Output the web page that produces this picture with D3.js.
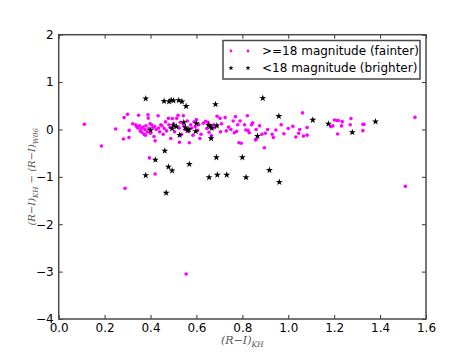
<!DOCTYPE html>
<html><head><meta charset="utf-8">
<script src="https://cdn.jsdelivr.net/npm/d3@7"></script>
<style>body{margin:0;background:#fff}svg{display:block}</style>
</head><body>
<script>
// faint (>=18 mag) points: [x, y]
const faintX = [0.112,0.186,0.248,0.282,0.285,0.300,0.307,0.306,0.322,0.335,0.340,0.345,0.348,0.352,0.355,0.360,0.362,0.368,0.372,0.375,0.378,0.380,0.385,0.389,0.390,0.392,0.395,0.398,0.400,0.405,0.410,0.415,0.418,0.420,0.420,0.425,0.433,0.435,0.440,0.445,0.450,0.455,0.460,0.465,0.470,0.478,0.480,0.485,0.488,0.495,0.500,0.505,0.514,0.520,0.526,0.525,0.530,0.535,0.543,0.545,0.550,0.555,0.560,0.565,0.569,0.575,0.580,0.585,0.590,0.595,0.600,0.605,0.610,0.615,0.620,0.630,0.640,0.645,0.650,0.655,0.660,0.665,0.675,0.680,0.690,0.703,0.705,0.710,0.725,0.730,0.740,0.750,0.760,0.765,0.770,0.775,0.780,0.785,0.790,0.795,0.810,0.815,0.822,0.825,0.830,0.840,0.845,0.857,0.861,0.860,0.875,0.885,0.896,0.900,0.910,0.930,0.935,0.946,0.969,0.981,1.000,1.020,1.033,1.045,1.050,1.062,1.066,1.082,1.082,1.185,1.194,1.201,1.212,1.218,1.215,1.232,1.235,1.270,1.273,1.325,1.330,1.325,1.510,1.552,0.289];
const faintY = [0.11,-0.35,0.01,-0.20,0.25,0.32,-0.02,-0.17,0.12,0.10,0.06,0.03,0.30,0.08,-0.03,0.02,-0.06,0.05,-0.10,0.00,-0.12,0.08,-0.05,0.31,0.24,0.02,-0.60,0.12,-0.08,0.10,0.04,-0.15,0.06,-0.24,-0.94,0.00,0.29,0.03,-0.05,0.10,0.08,-0.10,0.02,0.16,-0.03,0.235,0.10,0.04,-0.19,0.23,0.12,-0.05,0.235,0.30,-0.27,0.03,0.15,-0.10,0.29,0.08,0.00,-3.05,0.18,-0.04,-0.28,0.10,0.03,-0.12,0.16,0.06,0.21,-0.02,0.10,-0.19,-0.10,0.13,0.17,0.02,0.15,-0.06,0.08,-0.13,0.10,0.04,0.28,0.235,-0.05,0.12,0.25,-0.03,0.05,0.00,0.18,-0.07,0.27,-0.04,0.10,-0.28,0.18,-0.29,0.10,-0.01,0.29,-0.02,-0.07,0.10,0.14,-0.22,-0.20,0.00,0.08,-0.10,-0.385,-0.08,0.00,-0.10,-0.17,-0.01,0.10,-0.09,0.02,0.066,-0.16,-0.08,0.00,0.35,-0.14,-0.12,0.04,0.06,0.075,0.20,0.19,0.19,-0.095,0.075,0.165,0.10,0.23,0.108,0.108,-0.025,-1.20,0.256,-1.24];
// bright (<18 mag) points
const brightX = [0.379,0.459,0.481,0.490,0.500,0.523,0.537,0.555,0.683,0.889,0.959,1.107,1.175,1.380,1.279,0.866,0.400,0.494,0.500,0.513,0.527,0.545,0.552,0.561,0.567,0.597,0.600,0.654,0.660,0.667,0.689,0.664,0.462,0.421,0.379,0.478,0.494,0.468,0.569,0.687,0.655,0.691,0.732,0.800,0.816,0.918,0.961];
const brightY = [0.65,0.60,0.59,0.62,0.61,0.615,0.59,0.49,0.53,0.66,0.28,0.20,0.12,0.165,-0.06,-0.14,-0.02,0.02,0.087,0.06,-0.12,0.15,0.04,-0.02,0.00,-0.04,0.13,0.09,0.06,0.03,0.08,-0.19,-0.45,-0.64,-0.97,-0.79,-0.87,-1.34,-0.73,-0.59,-1.01,-0.96,-0.96,-0.59,-1.01,-0.86,-1.11];
const xTicks = [0,0.2,0.4,0.6,0.8,1.0,1.2,1.4,1.6];
const yTicks = [-4,-3,-2,-1,0,1,2];
const legendLabels = [">=18 magnitude (fainter)", "<18 magnitude (brighter)"];

const W = 474, H = 355;
const m = {l: 58.7, r: 426, t: 34.7, b: 319};
const svg = d3.select("body").append("svg").attr("width", W).attr("height", H);
const x = d3.scaleLinear().domain([0, 1.6]).range([m.l, m.r]);
const y = d3.scaleLinear().domain([-4, 2]).range([m.b, m.t]);
const fmtX = d => d.toFixed(1);
const fmtY = d => d < 0 ? "\u2212" + Math.abs(d) : String(d);
const tickFont = "DejaVu Sans, sans-serif";

// axes with inward ticks
const axB = svg.append("g").attr("transform", `translate(0,${m.b})`)
  .call(d3.axisBottom(x).tickValues(xTicks).tickFormat(fmtX).tickSizeInner(-4).tickSizeOuter(0).tickPadding(6));
const axT = svg.append("g").attr("transform", `translate(0,${m.t})`)
  .call(d3.axisTop(x).tickValues(xTicks).tickFormat("").tickSizeInner(-4).tickSizeOuter(0));
const axL = svg.append("g").attr("transform", `translate(${m.l},0)`)
  .call(d3.axisLeft(y).tickValues(yTicks).tickFormat(fmtY).tickSizeInner(-4).tickSizeOuter(0).tickPadding(5));
const axR = svg.append("g").attr("transform", `translate(${m.r},0)`)
  .call(d3.axisRight(y).tickValues(yTicks).tickFormat("").tickSizeInner(-4).tickSizeOuter(0));
[axB, axT, axL, axR].forEach(g => {
  g.select(".domain").remove();
  g.selectAll(".tick line").attr("stroke", "#333");
  g.selectAll("text").attr("font-family", tickFont).attr("font-size", 12).attr("fill", "#000");
});
axB.selectAll("text").attr("dy", "0.55em");

// frame
svg.append("rect").attr("x", m.l).attr("y", m.t).attr("width", m.r - m.l).attr("height", m.b - m.t)
  .attr("fill", "none").attr("stroke", "#4a4a4a").attr("stroke-width", 1.5);

// points
const faint = faintX.map((v, i) => [v, faintY[i]]);
const bright = brightX.map((v, i) => [v, brightY[i]]);
svg.append("g").selectAll("circle").data(faint).join("circle")
  .attr("cx", d => x(d[0])).attr("cy", d => y(d[1])).attr("r", 1.8).attr("fill", "#ff00ff");
const star = d3.symbol().type(d3.symbolStar).size(15);
svg.append("g").selectAll("path").data(bright).join("path")
  .attr("d", star).attr("transform", d => `translate(${x(d[0])},${y(d[1])})`).attr("fill", "#000");

// legend
const lg = svg.append("g");
lg.append("rect").attr("x", 223).attr("y", 40.5).attr("width", 197).attr("height", 38.5)
  .attr("fill", "#fff").attr("stroke", "#4a4a4a").attr("stroke-width", 1.5);
legendLabels.forEach((t, i) => {
  const yy = 51 + i * 17;
  [231, 248].forEach(xx => {
    if (i === 0) lg.append("circle").attr("cx", xx).attr("cy", yy).attr("r", 1.4).attr("fill", "#ff00ff");
    else lg.append("path").attr("d", d3.symbol().type(d3.symbolStar).size(9)).attr("transform", `translate(${xx},${yy})`).attr("fill", "#000");
  });
  lg.append("text").attr("x", 262).attr("y", yy).attr("dy", "0.36em").attr("font-family", tickFont)
    .attr("font-size", 12).attr("fill", "#000").text(t);
});

// axis labels
const lab = svg.append("text").attr("x", (m.l + m.r) / 2).attr("y", 344).attr("text-anchor", "middle")
  .attr("font-family", "DejaVu Serif, serif").attr("font-style", "italic").attr("font-size", 11).attr("fill", "#555");
lab.append("tspan").text("(R\u2212I)");
lab.append("tspan").attr("font-size", 7.5).attr("dy", 2.5).text("KH");

const yl = svg.append("text").attr("transform", `translate(35,${(m.t + m.b) / 2}) rotate(-90)`).attr("text-anchor", "middle")
  .attr("font-family", "DejaVu Serif, serif").attr("font-style", "italic").attr("font-size", 10).attr("fill", "#555");
yl.append("tspan").text("(R\u2212I)");
yl.append("tspan").attr("font-size", 7).attr("dy", 2.5).text("KH");
yl.append("tspan").attr("dy", -2.5).attr("font-style", "normal").text(" \u2212 ");
yl.append("tspan").text("(R\u2212I)");
yl.append("tspan").attr("font-size", 7).attr("dy", 2.5).text("W06");
</script>
</body></html>
